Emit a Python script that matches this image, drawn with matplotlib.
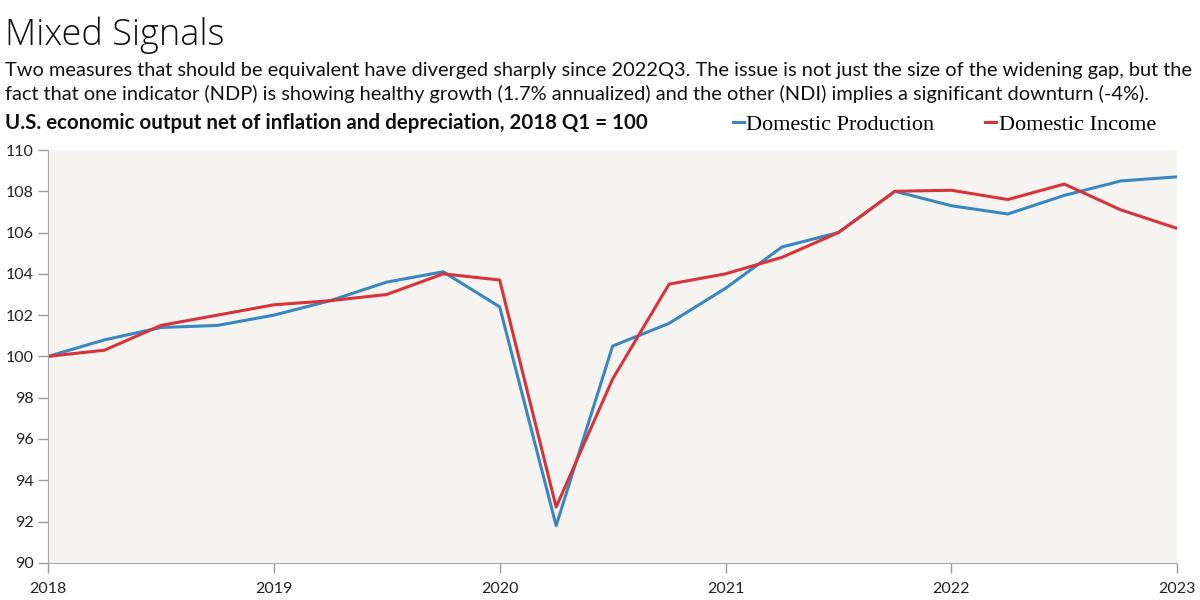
import matplotlib
matplotlib.use("Agg")
import matplotlib.pyplot as plt

# quarterly index, 2018 Q1 = 100
quarters = ["2018Q1", "2018Q2", "2018Q3", "2018Q4",
            "2019Q1", "2019Q2", "2019Q3", "2019Q4",
            "2020Q1", "2020Q2", "2020Q3", "2020Q4",
            "2021Q1", "2021Q2", "2021Q3", "2021Q4",
            "2022Q1", "2022Q2", "2022Q3", "2022Q4",
            "2023Q1"]
ndp = [100.0, 100.8, 101.4, 101.5, 102.0, 102.7, 103.6, 104.1,
       102.4, 91.8, 100.5, 101.6, 103.3, 105.3, 106.0, 108.0,
       107.3, 106.9, 107.8, 108.5, 108.7]
ndi = [100.0, 100.3, 101.5, 102.0, 102.5, 102.7, 103.0, 104.0,
       103.7, 92.7, 98.9, 103.5, 104.0, 104.8, 106.0, 108.0,
       108.05, 107.6, 108.35, 107.1, 106.2]
year_ticks = [2018, 2019, 2020, 2021, 2022, 2023]
y_ticks = [90, 92, 94, 96, 98, 100, 102, 104, 106, 108, 110]

blue = "#3a87c0"
red = "#d6343a"


def to_num(q):
    return int(q[:4]) + (int(q[5]) - 1) / 4


def main():
    x = [to_num(q) for q in quarters]

    fig = plt.figure(figsize=(12, 6), dpi=100)
    ax = fig.add_axes([0.04, 0.062, 0.941, 0.688])
    ax.set_facecolor("#f6f4f1")

    ax.plot(x, ndp, color=blue, lw=2.2, label="Domestic Production")
    ax.plot(x, ndi, color=red, lw=2.2, label="Domestic Income")

    ax.set_xlim(2018, 2023)
    ax.set_ylim(90, 110)
    ax.set_xticks(year_ticks)
    ax.set_yticks(y_ticks)
    ax.tick_params(axis="both", colors="#999999", labelcolor="#222222",
                   labelsize=11.5, length=7, width=1)
    ax.tick_params(axis="x", pad=7)
    for lab in ax.get_xticklabels() + ax.get_yticklabels():
        lab.set_family("Lato")
    for s in ["top", "right"]:
        ax.spines[s].set_visible(False)
    for s in ["left", "bottom"]:
        ax.spines[s].set_color("#aaaaaa")

    fig.text(0.004, 0.925, "Mixed Signals", fontsize=26, family="Open Sans",
             fontweight="light", color="#111111")
    fig.text(0.004, 0.874,
             "Two measures that should be equivalent have diverged sharply since 2022Q3. "
             "The issue is not just the size of the widening gap, but the",
             fontsize=14.4, family="Lato", color="#111111")
    fig.text(0.004, 0.834,
             "fact that one indicator (NDP) is showing healthy growth (1.7% annualized) "
             "and the other (NDI) implies a significant downturn (-4%).",
             fontsize=14.4, family="Lato", color="#111111")
    fig.text(0.004, 0.785,
             "U.S. economic output net of inflation and depreciation, 2018 Q1 = 100",
             fontsize=14.8, family="Lato", fontweight="bold", color="#111111")

    ax.legend(loc="lower right", bbox_to_anchor=(0.993, 1.005), ncol=2,
              frameon=False, handlelength=0.5, handletextpad=0.1,
              columnspacing=2.3, borderaxespad=0.2,
              prop={"family": "Liberation Serif", "size": 16})

    plt.savefig("out.png", dpi=100)


if __name__ == '__main__':
    main()
